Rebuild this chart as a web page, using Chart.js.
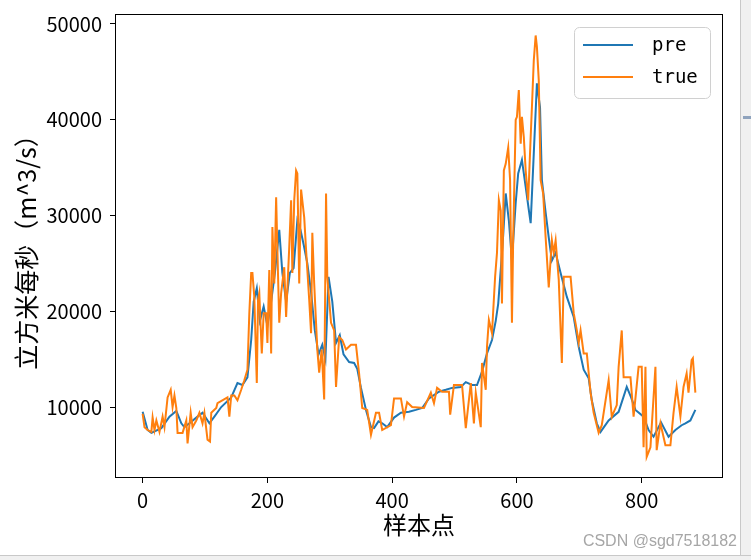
<!DOCTYPE html>
<html>
<head>
<meta charset="utf-8">
<script src="https://cdn.jsdelivr.net/npm/chart.js@4.4.0/dist/chart.umd.min.js"></script>
<style>
    html, body { margin: 0; padding: 0; background: #fff; }
    #wrap { position: relative; width: 751px; height: 560px; overflow: hidden; background: #fff; }
    #chart1 { position: absolute; left: 0; top: 0; }
    #sideBar { position: absolute; left: 740px; top: 0; width: 11px; height: 560px; background: #f0f0f0; border-left: 1px solid #c8c8c8; }
    #bottomBar { position: absolute; left: 0; top: 555px; width: 751px; height: 5px; background: #f0f0f0; border-top: 1px solid #c8c8c8; }
    #scrollMark { position: absolute; left: 743px; top: 116px; width: 8px; height: 3px; background: #8fa3bd; }
    #mark { position: absolute; right: 14px; top: 532px; font-family: "Liberation Sans", Arial, sans-serif; font-size: 16px; color: #a6a6a6; white-space: nowrap; }
</style>
</head>
<body>
<div id="wrap">
    <canvas id="chart1" width="751" height="560"></canvas>
    <div id="sideBar"></div>
    <div id="bottomBar"></div>
    <div id="scrollMark"></div>
    <div id="mark">CSDN @sgd7518182</div>
</div>
<script>
// sample index / flow values
var preX = [0, 8, 14, 30, 43, 54, 62, 67, 75, 88,
    96, 107, 115, 126, 142, 152, 160, 168, 174, 178,
    183, 188, 194, 200, 206, 212, 219, 224, 230, 236,
    242, 248, 253, 258, 264, 270, 276, 282, 288, 293,
    298, 304, 310, 316, 322, 331, 339, 344, 350, 358,
    366, 371, 378, 384, 392, 403, 414, 427, 438, 448,
    459, 475, 486, 496, 510, 518, 528, 536, 544, 552,
    560, 566, 570, 574, 578, 582, 587, 592, 598, 602,
    608, 614, 619, 622, 627, 632, 637, 640, 646, 651,
    656, 662, 670, 680, 691, 699, 707, 715, 720, 728,
    734, 747, 763, 776, 783, 790, 803, 811, 819, 831,
    843, 854, 864, 870, 878, 886];
var preY = [9500, 7600, 7300, 7800, 9000, 9600, 8300, 7900, 8300, 9000,
    9400, 8300, 9000, 10000, 11000, 12500, 12300, 13100, 17000, 21000,
    22400, 19000, 20500, 18500, 21000, 24000, 28500, 24000, 21000, 24000,
    24500, 29500, 28500, 27000, 25000, 22000, 18000, 15500, 16500, 15000,
    23600, 21000, 16700, 17500, 15500, 14700, 14600, 14000, 12000, 9700,
    7900, 7800, 8500, 8300, 7900, 8900, 9400, 9500, 9700, 9900,
    10900, 11600, 11800, 12000, 12100, 12600, 12300, 12300, 13700, 15600,
    17000, 19000, 20800, 24300, 28000, 32300, 29500, 25300, 31300, 34400,
    35800, 33000, 30600, 29200, 36500, 43800, 41300, 33700, 30300, 27700,
    25300, 26100, 24000, 21500, 19400, 16300, 13900, 13000, 10700, 8300,
    7400, 8600, 9500, 12100, 11000, 9700, 9000, 7600, 6900, 8400,
    6900, 7600, 8100, 8300, 8600, 9700];

var trueX = [0, 3, 8, 14, 16, 19, 22, 27, 32, 35,
    40, 45, 48, 51, 54, 56, 64, 70, 72, 77,
    80, 86, 91, 96, 99, 104, 108, 110, 118, 120,
    136, 139, 142, 147, 152, 158, 163, 168, 171, 174,
    176, 179, 183, 185, 187, 191, 194, 198, 200, 203,
    206, 208, 211, 214, 216, 219, 222, 227, 230, 235,
    238, 240, 243, 246, 248, 251, 254, 259, 262, 267,
    270, 272, 275, 280, 283, 287, 291, 294, 296, 302,
    307, 310, 315, 320, 326, 334, 342, 347, 352, 360,
    366, 374, 379, 384, 398, 403, 414, 419, 424, 432,
    451, 462, 467, 472, 480, 491, 493, 499, 512, 518,
    526, 531, 534, 542, 544, 550, 552, 555, 560, 565,
    568, 571, 574, 576, 579, 582, 586, 589, 592, 594,
    598, 600, 603, 606, 608, 611, 614, 618, 622, 624,
    627, 630, 632, 635, 638, 642, 646, 651, 656, 659,
    662, 667, 672, 675, 686, 691, 696, 699, 702, 707,
    712, 718, 723, 731, 736, 747, 752, 760, 763, 768,
    771, 782, 787, 795, 800, 803, 806, 808, 814, 822,
    824, 830, 838, 846, 851, 856, 862, 867, 872, 875,
    880, 882, 886];
var trueY = [9300, 7900, 7600, 7400, 8900, 7600, 8600, 7400, 9000, 7900,
    11000, 11800, 10000, 11200, 9900, 7300, 7300, 8600, 6200, 9400,
    7900, 8600, 9400, 8300, 9400, 6600, 6400, 9400, 9900, 10400,
    11000, 9000, 11200, 11200, 10700, 11800, 12800, 13900, 19800, 24000,
    24000, 21500, 12500, 21200, 21900, 15600, 19800, 19800, 16700, 24300,
    15600, 28800, 22900, 31900, 26400, 18800, 21900, 24600, 19400, 26700,
    31600, 24000, 31600, 34700, 34400, 22900, 32700, 29800, 26400, 21200,
    17700, 28200, 22900, 16000, 13600, 16000, 10800, 32300, 23600, 18800,
    18000, 12100, 17300, 17000, 16000, 16500, 16500, 13500, 9900, 9700,
    7100, 9400, 9400, 7600, 8100, 10900, 10900, 9000, 10500, 10000,
    9900, 11500, 10400, 12000, 11600, 11600, 9200, 12300, 12300, 7800,
    12500, 8300, 11500, 7900, 14600, 11800, 16300, 19100, 17700, 23600,
    26100, 31600, 30500, 20800, 34700, 35400, 37100, 33700, 18800, 27700,
    40000, 40300, 43100, 37500, 40300, 38200, 34700, 31600, 38200, 41300,
    46200, 48800, 47600, 44100, 33700, 32300, 27700, 22500, 27400, 26100,
    27400, 23300, 14600, 23600, 23600, 19800, 18000, 16700, 18000, 15600,
    15600, 11500, 9400, 7300, 8100, 12800, 9000, 10200, 14200, 18000,
    13100, 13100, 9000, 14200, 14200, 5800, 14200, 4800, 5800, 14200,
    5500, 8300, 6000, 6000, 9400, 12100, 9000, 12100, 13500, 11500,
    14900, 15100, 11500];

var xTicks = [0, 200, 400, 600, 800];
var yTicks = [10000, 20000, 30000, 40000, 50000];

function toPoints(xs, ys) {
    return xs.map(function (x, i) { return { x: x, y: ys[i] }; });
}

var tickFont = { family: '"Noto Sans CJK SC", sans-serif', size: 20 };
var xTitleFont = { family: '"Noto Sans CJK SC", sans-serif', size: 24 };
var yTitleFont = { family: '"Noto Sans CJK SC", sans-serif', size: 25 };

// box round the plot + legend in the upper right
var frameLegend = {
    id: 'frameLegend',
    afterDraw: function (chart) {
        var c = chart.ctx;
        var a = chart.chartArea;
        c.save();
        c.strokeStyle = '#000';
        c.lineWidth = 1;
        c.strokeRect(Math.round(a.left) + 0.5, Math.round(a.top) + 0.5,
            Math.round(a.right - a.left) - 1, Math.round(a.bottom - a.top) - 1);

        var items = chart.data.datasets.slice().reverse();
        var w = 136, h = 71;
        var x = Math.round(a.right) - 13 - w;
        var y = Math.round(a.top) + 13;
        c.fillStyle = 'rgba(255,255,255,0.8)';
        c.strokeStyle = '#d0d0d0';
        c.beginPath();
        c.roundRect(x + 0.5, y + 0.5, w, h, 5);
        c.fill();
        c.stroke();
        c.font = '19px "DejaVu Sans Mono", monospace';
        c.textBaseline = 'middle';
        items.forEach(function (ds, i) {
            var ly = y + 18 + i * 32;
            c.strokeStyle = ds.borderColor;
            c.lineWidth = 2;
            c.beginPath();
            c.moveTo(x + 9, ly);
            c.lineTo(x + 59, ly);
            c.stroke();
            c.fillStyle = '#000';
            c.fillText(ds.label, x + 78, ly + 1);
        });
        c.restore();
    }
};

var ctxChart1 = document.getElementById('chart1').getContext('2d');
var chart1 = new Chart(ctxChart1, {
    type: 'line',
    plugins: [frameLegend],
    data: {
        datasets: [{
            label: 'true',
            data: toPoints(trueX, trueY),
            borderColor: '#ff7f0e',
            borderWidth: 2,
            pointRadius: 0,
            fill: false,
            tension: 0
        }, {
            label: 'pre',
            data: toPoints(preX, preY),
            borderColor: '#1f77b4',
            borderWidth: 2,
            pointRadius: 0,
            fill: false,
            tension: 0
        }]
    },
    options: {
        responsive: false,
        animation: false,
        layout: { padding: { left: 0, right: 28, top: 14, bottom: 0 } },
        plugins: {
            legend: { display: false },
            tooltip: { enabled: false }
        },
        scales: {
            x: {
                type: 'linear',
                min: -44.3,
                max: 930.3,
                afterFit: function (s) { s.height = 82; s.paddingLeft = 0; s.paddingRight = 0; },
                afterBuildTicks: function (s) { s.ticks = xTicks.map(function (v) { return { value: v }; }); },
                border: { display: false },
                grid: { display: true, drawOnChartArea: false, drawTicks: true, tickLength: 5, tickColor: '#000' },
                ticks: { color: '#000', font: tickFont, padding: 5, maxRotation: 0, callback: function (v) { return String(v); } },
                title: { display: true, text: '样本点', color: '#000', font: xTitleFont, padding: { top: 0, bottom: 21 } }
            },
            y: {
                min: 2590,
                max: 51040,
                afterFit: function (s) { s.width = 115; s.paddingTop = 0; s.paddingBottom = 0; },
                afterBuildTicks: function (s) { s.ticks = yTicks.map(function (v) { return { value: v }; }); },
                border: { display: false },
                grid: { display: true, drawOnChartArea: false, drawTicks: true, tickLength: 5, tickColor: '#000' },
                ticks: { color: '#000', font: tickFont, padding: 8, callback: function (v) { return String(v); } },
                title: { display: true, text: '立方米每秒（m^3/s）', color: '#000', font: yTitleFont, padding: { top: 11, bottom: 0 } }
            }
        }
    }
});
</script>
</body>
</html>
